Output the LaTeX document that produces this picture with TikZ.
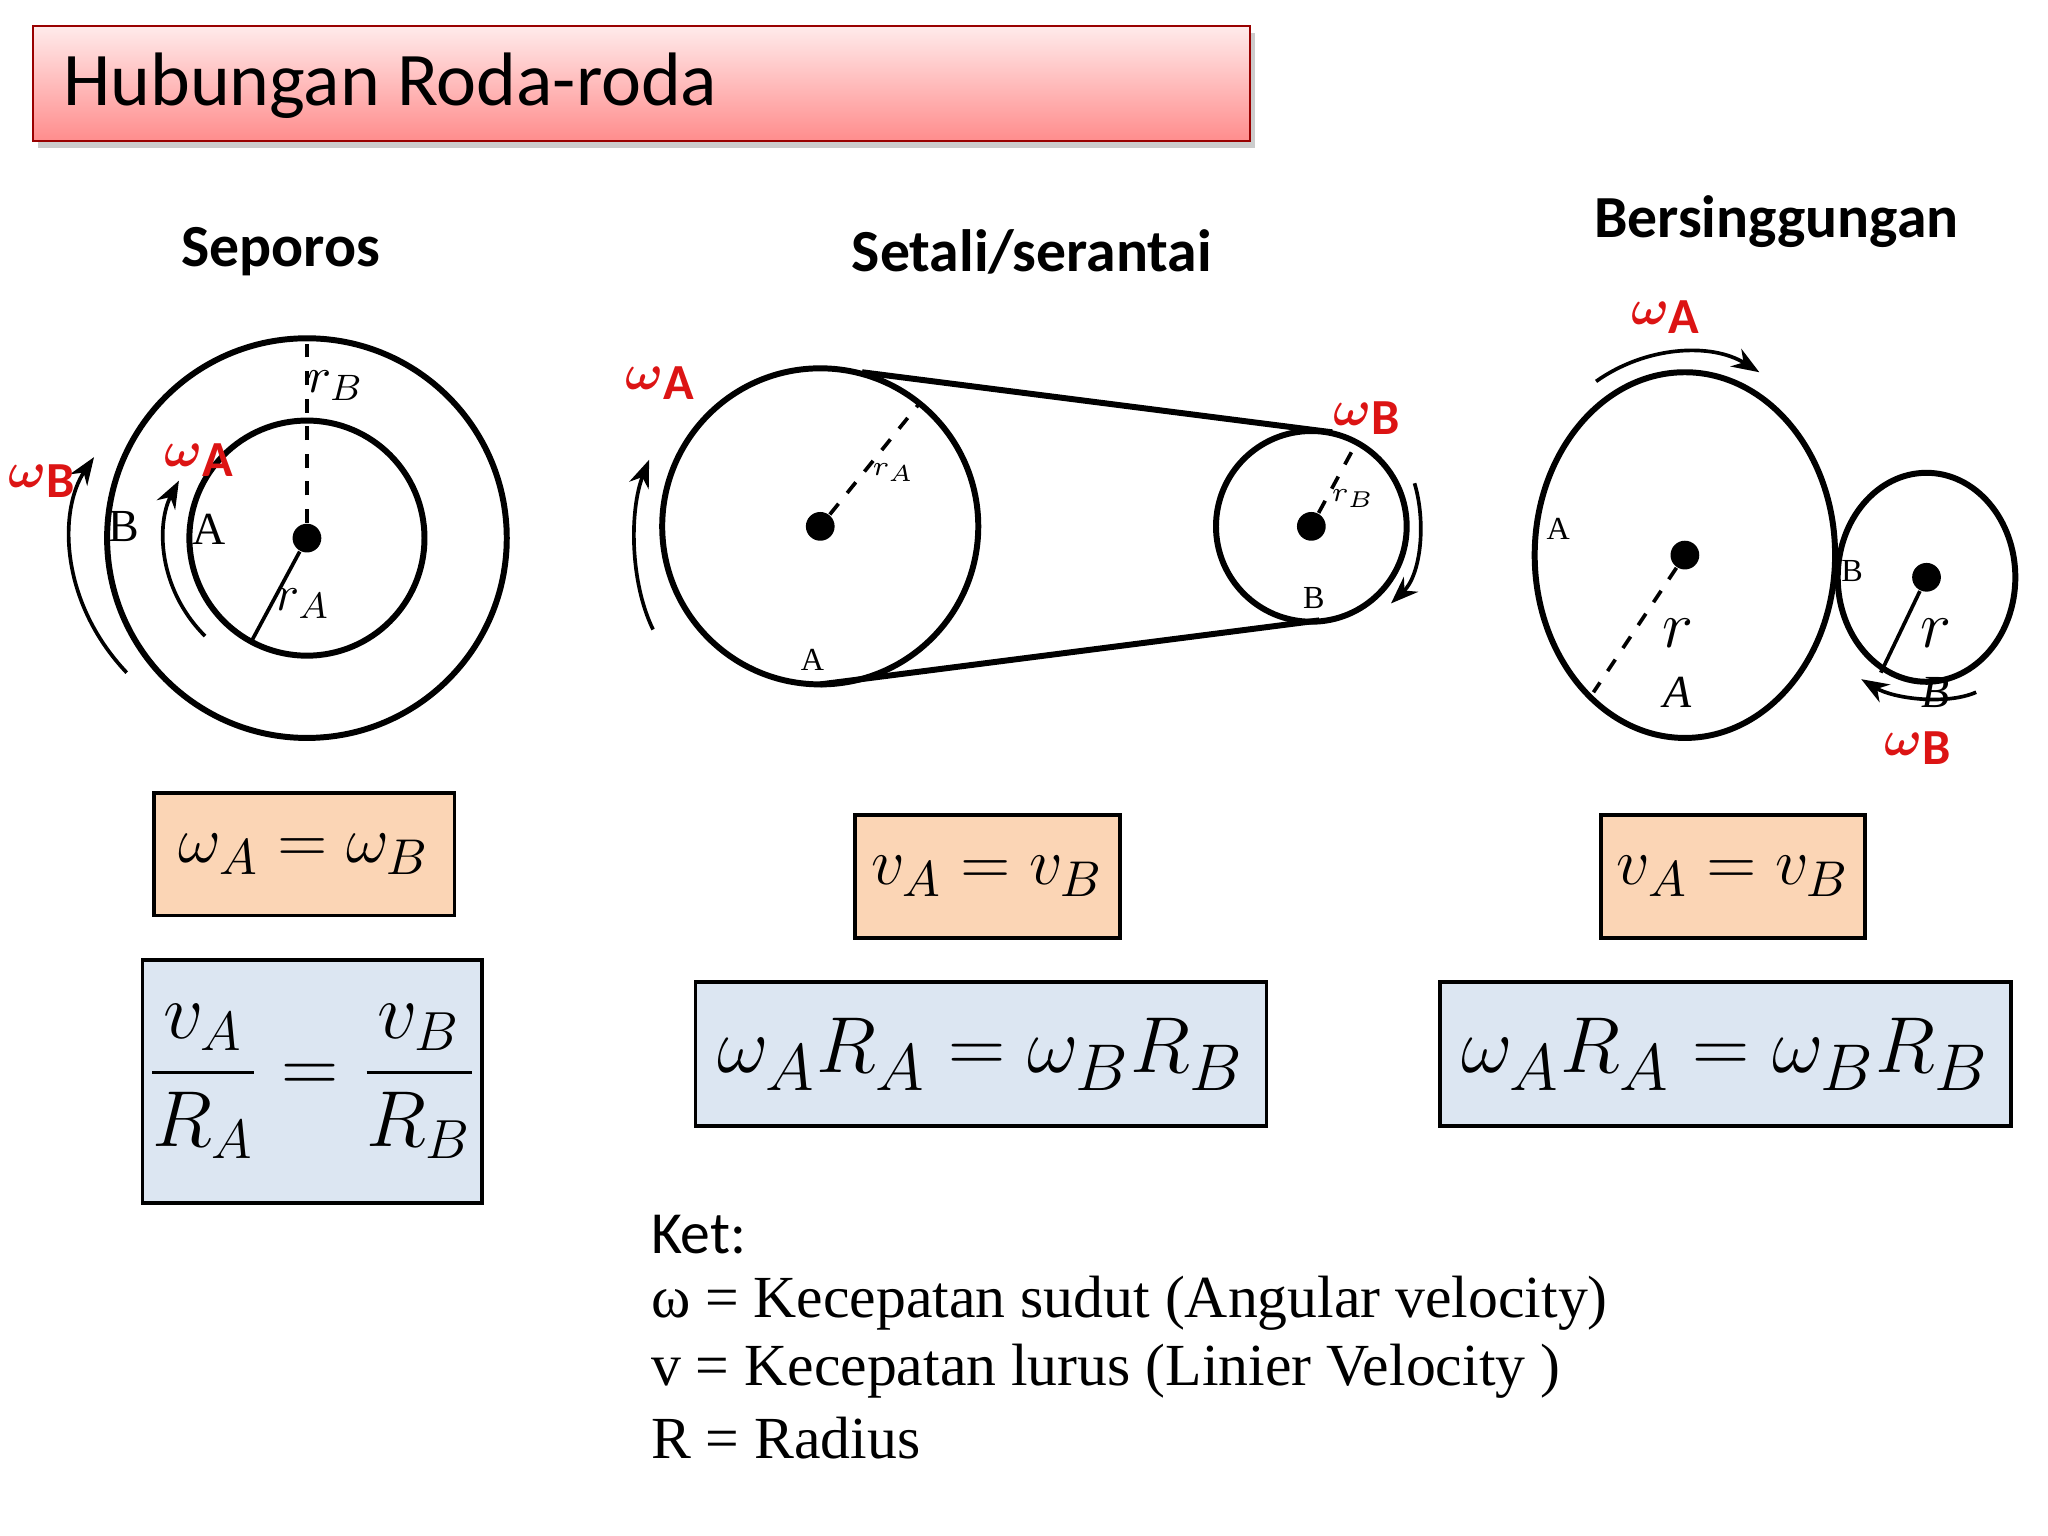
\documentclass[tikz,border=0pt]{standalone}
\usepackage{amsmath}
\usepackage{fontspec}
\setmainfont{Liberation Serif}
\newfontfamily\carl{Carlito}
\usetikzlibrary{arrows.meta}
\definecolor{orb}{RGB}{251,213,181}
\definecolor{blb}{RGB}{220,230,242}
\definecolor{omr}{RGB}{220,20,20}
\begin{document}
\begin{tikzpicture}[x=0.01cm,y=-0.01cm,
  head/.style={font=\carl\bfseries\fontsize{13}{15}\selectfont},
  om/.style={text=omr,font=\carl\bfseries\boldmath\fontsize{11}{12}\selectfont},
  lab/.style={font=\fontsize{7}{8}\selectfont},
  eqo/.style={draw=black,thick,fill=orb,inner sep=1pt,font=\fontsize{15}{18}\selectfont},
  eqb/.style={draw=black,thick,fill=blb,inner sep=1pt,font=\fontsize{19}{22}\selectfont},
  wheel/.style={line width=1.3pt},
  arr/.style={-{Stealth[length=6pt]},line width=0.8pt},
  dot/.style={circle,fill=black,inner sep=0,minimum size=0.22cm}]
\useasboundingbox (0,0) rectangle (1568,1176);
\fill[white] (0,0) rectangle (1568,1176);
% title
\fill[gray!40] (29,25) rectangle (961,113);
\shade[top color=red!8,bottom color=red!45,draw=red!60!black] (25,20) rectangle (957,108);
\node[anchor=west,font=\carl\fontsize{16.5}{20}\selectfont] (title) at (36,66) {Hubungan Roda-roda};
\node[head] (h1) at (215,193) {Seporos};
\node[head] (h2) at (790,193) {Setali/serantai};
\node[head] (h3) at (1360,170) {Bersinggungan};
% Seporos
\draw[wheel] (235,412) circle[radius=153];
\draw[wheel] (235,412) circle[radius=90];
\node[dot] (c1) at (235,412) {};
\coordinate (rb) at (235,259);
\coordinate (ra) at (192,492);
\draw[dashed,thick] (c1) -- (rb);
\draw[thick] (c1) -- (ra);
\node[font=\fontsize{11}{12}\selectfont] (lrb) at (257,295) {$r_B$};
\node[font=\fontsize{11}{12}\selectfont] (lra) at (232,462) {$r_A$};
\node[font=\fontsize{10}{12}\selectfont] (lB1) at (95,403) {B};
\node[font=\fontsize{10}{12}\selectfont] (lA1) at (160,405) {A};
\draw[arr] (97,515) .. controls (45,460) and (45,390) .. (72,350);
\draw[arr] (157,487) .. controls (120,450) and (120,400) .. (137,368);
\node[om] (o1) at (32,368) {$\omega$\raisebox{-2pt}{B}};
\node[om] (o2) at (152,352) {$\omega$\raisebox{-2pt}{A}};
% Setali
\draw[wheel] (628,403) circle[radius=121];
\draw[wheel] (1004,403) circle[radius=73];
\draw[wheel] (660,285) -- (1020,331);
\draw[wheel] (628,524) -- (1010,475);
\node[dot] (c2) at (628,403) {};
\node[dot] (c3) at (1004,403) {};
\coordinate (p2) at (703,310);
\coordinate (p3) at (1037,342);
\draw[dashed,thick] (c2) -- (p2);
\draw[dashed,thick] (c3) -- (p3);
\node[font=\fontsize{6}{7}\selectfont] (l2) at (684,362) {$r_A$};
\node[font=\fontsize{6}{7}\selectfont] (l3) at (1036,382) {$r_B$};
\node[lab] (lA2) at (622,505) {A};
\node[lab] (lB2) at (1006,458) {B};
\draw[arr] (500,482) .. controls (482,445) and (482,390) .. (497,352);
\draw[arr] (1083,370) .. controls (1092,400) and (1088,440) .. (1065,462);
\node[om] (o3) at (505,293) {$\omega$\raisebox{-2pt}{A}};
\node[om] (o4) at (1046,320) {$\omega$\raisebox{-2pt}{B}};
% Bersinggungan
\draw[wheel] (1290,425) ellipse[x radius=115,y radius=140];
\draw[wheel] (1475,442) ellipse[x radius=68,y radius=80];
\node[dot] (c4) at (1290,425) {};
\node[dot] (c5) at (1475,442) {};
\coordinate (p4) at (1220,530);
\coordinate (p5) at (1440,515);
\draw[dashed,thick] (c4) -- (p4);
\draw[thick] (c5) -- (p5);
\node[font=\fontsize{15}{16}\selectfont] (r4) at (1285,485) {$r$};
\node[font=\fontsize{15}{16}\selectfont] (r5) at (1482,485) {$r$};
\node[font=\itshape\fontsize{10}{11}\selectfont] (a4) at (1284,530) {A};
\node[font=\itshape\fontsize{10}{11}\selectfont] (b5) at (1482,530) {B};
\node[lab] (lA3) at (1193,405) {A};
\node[lab] (lB3) at (1418,437) {B};
\draw[arr] (1222,292) .. controls (1260,265) and (1310,262) .. (1347,285);
\draw[arr] (1513,530) .. controls (1490,540) and (1450,535) .. (1425,520);
\node[om] (o5) at (1275,243) {$\omega$\raisebox{-2pt}{A}};
\node[om] (o6) at (1468,573) {$\omega$\raisebox{-2pt}{B}};
% equations
\node[eqo,minimum width=2.30cm,minimum height=0.94cm] (e1) at (233,654) {$\omega_A=\omega_B$};
\node[eqo,minimum width=2.03cm,minimum height=0.94cm] (e2) at (756,671) {$v_A=v_B$};
\node[eqo,minimum width=2.02cm,minimum height=0.94cm] (e3) at (1327,671) {$v_A=v_B$};
\node[eqb,font=\fontsize{17}{20}\selectfont,minimum width=2.58cm,minimum height=1.86cm] (e4) at (239,828) {$\dfrac{v_A}{R_A}=\dfrac{v_B}{R_B}$};
\node[eqb,minimum width=4.37cm,minimum height=1.10cm] (e5) at (751,807) {$\omega_AR_A=\omega_BR_B$};
\node[eqb,minimum width=4.37cm,minimum height=1.10cm] (e6) at (1321,807) {$\omega_AR_A=\omega_BR_B$};
% Ket
\node[anchor=west,font=\carl\fontsize{13}{15}\selectfont] (k0) at (486,945) {Ket:};
\node[anchor=west,font=\fontsize{13}{16}\selectfont] (k1) at (486,998) {ω = Kecepatan sudut (Angular velocity)};
\node[anchor=west,font=\fontsize{13}{16}\selectfont] (k2) at (486,1050) {v = Kecepatan lurus (Linier Velocity )};
\node[anchor=west,font=\fontsize{13}{16}\selectfont] (k3) at (486,1101) {R = Radius};
\end{tikzpicture}
\end{document}
